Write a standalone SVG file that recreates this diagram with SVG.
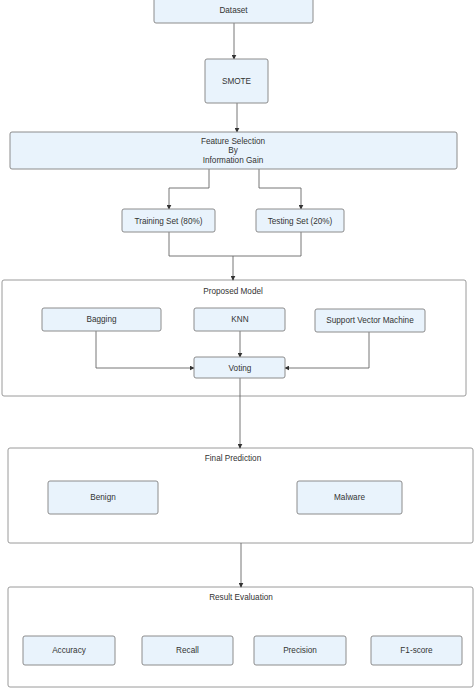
<svg xmlns="http://www.w3.org/2000/svg" width="474" height="688" viewBox="0 0 474 688">
<defs>
<style>
.n{fill:#e9f3fc;stroke:#8c8c8c;stroke-width:1}
.g{fill:#ffffff;stroke:#9a9a9a;stroke-width:1}
.t{font-family:"Liberation Sans",Arial,sans-serif;font-size:8.2px;fill:#333;text-anchor:middle}
.c{fill:none;stroke:#666;stroke-width:0.9}
</style>
<marker id="ah" viewBox="0 0 8 8" refX="7" refY="4" markerWidth="5" markerHeight="5" orient="auto" markerUnits="userSpaceOnUse">
<path d="M0,0 L8,4 L0,8 z" fill="#333"/>
</marker>
</defs>
<rect width="474" height="688" fill="#ffffff"/>

<g id="proposed-model">
<rect class="g" x="2" y="280" width="464" height="116" rx="2"/>
<text class="t" x="233" y="294">Proposed Model</text>
</g>
<g id="final-prediction">
<rect class="g" x="8" y="448" width="465" height="95" rx="2"/>
<text class="t" x="233" y="461">Final Prediction</text>
</g>
<g id="result-evaluation">
<rect class="g" x="8" y="587" width="465" height="100" rx="2"/>
<text class="t" x="241" y="600">Result Evaluation</text>
</g>

<g id="connectors">
<path class="c" d="M234,23 V59" marker-end="url(#ah)"/>
<path class="c" d="M237,103 V132" marker-end="url(#ah)"/>
<path class="c" d="M209,169 V188 H169 V209" marker-end="url(#ah)"/>
<path class="c" d="M259,169 V188 H301 V209" marker-end="url(#ah)"/>
<path class="c" d="M169,232 V256 H301 V232"/>
<path class="c" d="M233,256 V280" marker-end="url(#ah)"/>
<path class="c" d="M96,331 V368 H194" marker-end="url(#ah)"/>
<path class="c" d="M240,331 V357" marker-end="url(#ah)"/>
<path class="c" d="M369,332 V368 H285" marker-end="url(#ah)"/>
<path class="c" d="M240,378 V448" marker-end="url(#ah)"/>
<path class="c" d="M241,543 V587" marker-end="url(#ah)"/>
</g>

<g id="dataset">
<rect class="n" x="154" y="-4" width="159" height="27" rx="2"/>
<text class="t" x="233.5" y="13">Dataset</text>
</g>
<g id="smote">
<rect class="n" x="205" y="59" width="63" height="44" rx="2"/>
<text class="t" x="236.5" y="84">SMOTE</text>
</g>
<g id="feature-selection">
<rect class="n" x="10" y="132" width="447" height="37" rx="2"/>
<text class="t" x="233" y="143.5">Feature Selection</text>
<text class="t" x="233" y="153">By</text>
<text class="t" x="233" y="162.5">Information Gain</text>
</g>
<g id="training-set">
<rect class="n" x="122" y="209" width="93" height="23" rx="2"/>
<text class="t" x="168.5" y="223.5">Training Set (80%)</text>
</g>
<g id="testing-set">
<rect class="n" x="256" y="209" width="88" height="23" rx="2"/>
<text class="t" x="300" y="223.5">Testing Set (20%)</text>
</g>
<g id="bagging">
<rect class="n" x="42" y="308" width="119" height="23" rx="2"/>
<text class="t" x="101.5" y="322">Bagging</text>
</g>
<g id="knn">
<rect class="n" x="194" y="308" width="91" height="23" rx="2"/>
<text class="t" x="240" y="322">KNN</text>
</g>
<g id="svm">
<rect class="n" x="315" y="309" width="110" height="23" rx="2"/>
<text class="t" x="370" y="323">Support Vector Machine</text>
</g>
<g id="voting">
<rect class="n" x="194" y="357" width="91" height="21" rx="2"/>
<text class="t" x="240" y="370.5">Voting</text>
</g>
<g id="benign">
<rect class="n" x="48" y="481" width="110" height="33" rx="2"/>
<text class="t" x="103" y="500">Benign</text>
</g>
<g id="malware">
<rect class="n" x="297" y="481" width="105" height="33" rx="2"/>
<text class="t" x="349.5" y="500">Malware</text>
</g>
<g id="accuracy">
<rect class="n" x="23" y="636" width="92" height="29" rx="2"/>
<text class="t" x="69" y="652.5">Accuracy</text>
</g>
<g id="recall">
<rect class="n" x="142" y="636" width="91" height="29" rx="2"/>
<text class="t" x="187.5" y="652.5">Recall</text>
</g>
<g id="precision">
<rect class="n" x="254" y="636" width="92" height="29" rx="2"/>
<text class="t" x="300" y="652.5">Precision</text>
</g>
<g id="f1-score">
<rect class="n" x="371" y="636" width="91" height="29" rx="2"/>
<text class="t" x="416.5" y="652.5">F1-score</text>
</g>
</svg>
